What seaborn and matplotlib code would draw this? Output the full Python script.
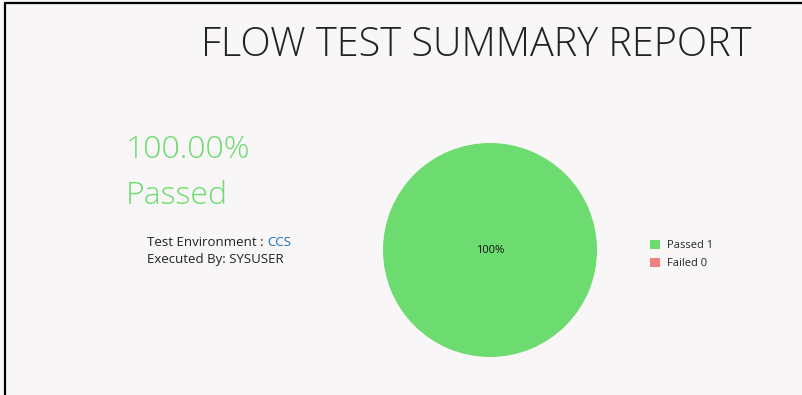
import matplotlib
matplotlib.use("Agg")
import matplotlib.pyplot as plt
import seaborn as sns
from matplotlib.lines import Line2D
from matplotlib.patches import Patch

# data
status_labels = ["Passed", "Failed"]
status_counts = [1, 0]
status_colors = ["#6ddc70", "#f08080"]
pass_rate = 100.0
test_environment = "CCS"
executed_by = "SYSUSER"
report_title = "FLOW TEST SUMMARY REPORT"

sns.set_style("white")
plt.rcParams["font.family"] = ["Open Sans", "DejaVu Sans"]

W, H = 802, 395
bg = "#f8f6f7"
fig = plt.figure(figsize=(W / 100, H / 100), dpi=100, facecolor=bg)


def fx(px):
    return px / W


def fy(py):
    return 1 - py / H


# border (top + left only, screenshot crop)
fig.add_artist(Line2D([fx(5), fx(5)], [fy(3), 0], transform=fig.transFigure, color="black", lw=1.6))
fig.add_artist(Line2D([fx(5), 1], [fy(3), fy(3)], transform=fig.transFigure, color="black", lw=1.6))

# title
fig.text(fx(476), fy(45), report_title, ha="center", va="center",
         fontsize=28.5, fontweight="light", color="#222222")

# pass rate block
green = status_colors[0]
fig.text(fx(126), fy(150), f"{pass_rate:.2f}%", ha="left", va="center",
         fontsize=23, fontweight="light", color=green)
fig.text(fx(126), fy(196), "Passed", ha="left", va="center",
         fontsize=23, fontweight="light", color=green)

t_env = fig.text(fx(147), fy(242), "Test Environment : ", ha="left", va="center",
                 fontsize=9.5, color="#222222")
fig.canvas.draw()
bb = t_env.get_window_extent(renderer=fig.canvas.get_renderer())
fig.text(bb.x1 / W, fy(242), test_environment, ha="left", va="center",
         fontsize=9.5, color="#1a6fb5")
fig.text(fx(147), fy(259), f"Executed By: {executed_by}", ha="left", va="center",
         fontsize=9.5, color="#222222")

# pie
cx, cy, r = 490, 250, 107
ax = fig.add_axes([fx(cx - r), 1 - (cy + r) / H, 2 * r / W, 2 * r / H])
ax.set_facecolor(bg)
wedges, texts, autotexts = ax.pie(
    status_counts,
    colors=status_colors,
    autopct=lambda p: f"{p:.0f}%" if p > 0 else "",
    pctdistance=0.0,
    startangle=90,
    counterclock=False,
    wedgeprops={"linewidth": 0, "edgecolor": "none"},
    textprops={"fontsize": 8, "color": "#111111"},
)
ax.set_xlim(-1, 1)
ax.set_ylim(-1, 1)
ax.set_aspect("equal")

# legend
handles = [Patch(facecolor=c, edgecolor="none") for c in status_colors]
legend_labels = [f"{l} {n}" for l, n in zip(status_labels, status_counts)]
fig.legend(handles, legend_labels, loc="upper left",
           bbox_to_anchor=(fx(640), fy(230)), frameon=False,
           fontsize=8, handlelength=0.9, handleheight=0.9,
           handletextpad=0.6, labelspacing=0.55)

fig.savefig("out.png", dpi=100, facecolor=bg)
